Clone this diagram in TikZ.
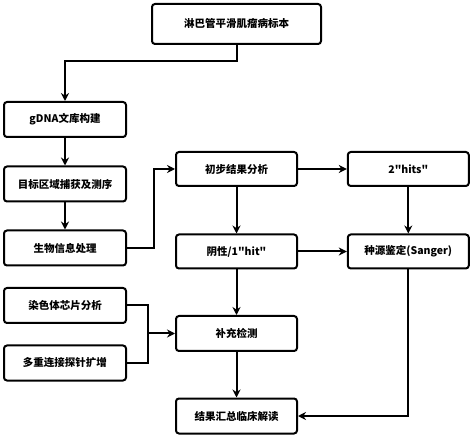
\documentclass[tikz,border=0pt]{standalone}
\usepackage{fontspec}
\newfontfamily\cjk{Noto Sans CJK SC}[BoldFont={Noto Sans CJK SC Black}]
\usetikzlibrary{arrows.meta}
\begin{document}
\begin{tikzpicture}[x=1pt,y=-1pt,
  box/.style={draw,line width=2pt,rounded corners=3pt,inner sep=0pt,
    font=\cjk\fontsize{10.5}{12}\selectfont\bfseries},
  conn/.style={line width=2pt,-{Stealth[length=8pt,width=8pt]}},
  plain/.style={line width=2pt}]
\useasboundingbox (0,0) rectangle (474,438);
\fill[white] (0,0) rectangle (474,438);
\node[box,minimum width=169pt,minimum height=40pt] (spec) at (236.5,24) {淋巴管平滑肌瘤病标本};
\node[box,minimum width=122pt,minimum height=35pt] (gdna) at (65,119.5) {gDNA文库构建};
\node[box,minimum width=122pt,minimum height=35pt] (cap) at (65,184) {目标区域捕获及测序};
\node[box,minimum width=122pt,minimum height=35pt] (bio) at (65,248) {生物信息处理};
\node[box,minimum width=122pt,minimum height=35pt] (chip) at (65,305.5) {染色体芯片分析};
\node[box,minimum width=122pt,minimum height=35pt] (mlpa) at (65,363) {多重连接探针扩增};
\node[box,minimum width=121pt,minimum height=34pt] (prelim) at (236.5,169) {初步结果分析};
\node[box,minimum width=121pt,minimum height=34pt] (hits) at (408.3,169) {2"hits"};
\node[box,minimum width=121pt,minimum height=34pt] (neg) at (236.5,251.5) {阴性/1"hit"};
\node[box,minimum width=121pt,minimum height=34pt] (sanger) at (408.3,251.5) {种源鉴定(Sanger)};
\node[box,minimum width=121pt,minimum height=35pt] (supp) at (236.5,333.5) {补充检测};
\node[box,minimum width=121pt,minimum height=35pt] (final) at (236.5,416) {结果汇总临床解读};
\draw[conn] (spec.south) |- (65,61) -- (gdna.north);
\draw[conn] (gdna) -- (cap);
\draw[conn] (cap) -- (bio);
\draw[conn] (bio.east) -- (154,248) |- (prelim.west);
\draw[conn] (prelim) -- (hits);
\draw[conn] (prelim) -- (neg);
\draw[conn] (hits) -- (sanger);
\draw[conn] (neg) -- (sanger);
\draw[conn] (neg) -- (supp);
\coordinate (j) at (147.7,333.5);
\draw[plain] (chip.east) -| (j);
\draw[plain] (mlpa.east) -| (j);
\draw[conn] (j) -- (supp.west);
\draw[conn] (supp) -- (final);
\draw[conn] (sanger.south) |- (final.east);
\end{tikzpicture}
\end{document}
